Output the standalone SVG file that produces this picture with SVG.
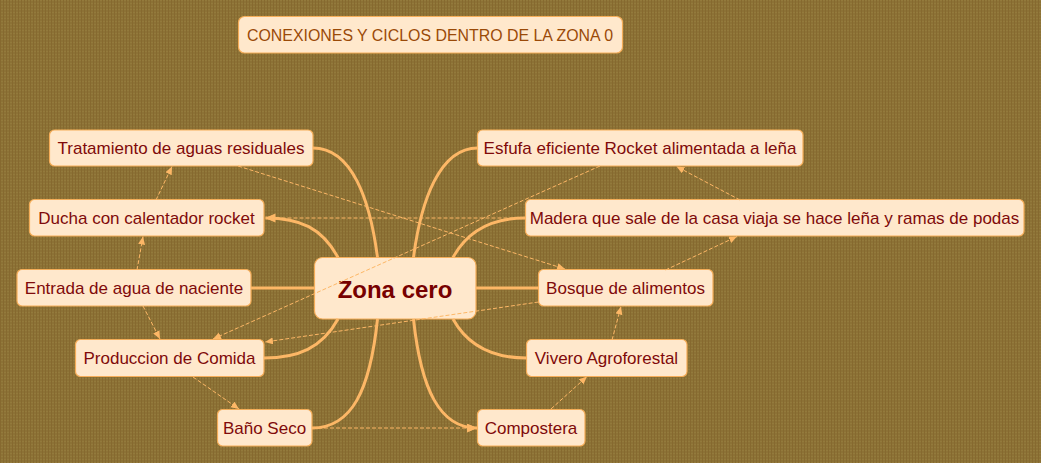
<svg xmlns="http://www.w3.org/2000/svg" width="1041" height="463" viewBox="0 0 1041 463">
<style>
.node rect{fill:#ffe8cc;stroke:#f5ad58;stroke-width:1.2}
.node text{font-family:"Liberation Sans",Arial,sans-serif;font-size:17px;fill:#800a0a;text-anchor:middle}
.main text{font-size:24px;font-weight:bold;fill:#770000}
.title text{font-size:16px;fill:#9a4a08}
.solid{fill:none;stroke:#fdb766;stroke-width:3}
.dash{fill:none;stroke:#fdb766;stroke-width:1;stroke-dasharray:4 2}
</style>
<defs>
<pattern id="tex" width="3" height="3" patternUnits="userSpaceOnUse">
<rect width="3" height="3" fill="#8c7236"/>
<rect width="3" height="1" fill="#937a3c"/>
<rect width="1" height="3" fill="#86692f"/>
</pattern>
<marker id="aS" markerUnits="userSpaceOnUse" markerWidth="11" markerHeight="10" refX="10" refY="4.5" orient="auto">
<path d="M0,0 L10,4.5 L0,9 z" fill="#fdb766"/>
</marker>
<marker id="aD" markerUnits="userSpaceOnUse" markerWidth="9" markerHeight="8" refX="8" refY="3.5" orient="auto">
<path d="M0,0 L8,3.5 L0,7 z" fill="#fdb766"/>
</marker>
</defs>
<rect width="1041" height="463" fill="url(#tex)"/>

<g id="title" class="node title">
<rect x="238.5" y="16.5" width="384" height="36.5" rx="6"/>
<text x="430" y="40.7" textLength="366" lengthAdjust="spacingAndGlyphs">CONEXIONES Y CICLOS DENTRO DE LA ZONA 0</text>
</g>

<g id="zona-cero" class="node main">
<rect x="314.5" y="257.5" width="161.5" height="61.5" rx="8"/>
<text x="395" y="297.5">Zona cero</text>
</g>
<g id="tratamiento" class="node">
<rect x="49.5" y="130" width="263.5" height="36" rx="5"/>
<text x="181" y="154.3">Tratamiento de aguas residuales</text>
</g>
<g id="ducha" class="node">
<rect x="29.5" y="199.5" width="234.5" height="36.5" rx="5"/>
<text x="146.5" y="224">Ducha con calentador rocket</text>
</g>
<g id="entrada" class="node">
<rect x="17" y="269.5" width="234" height="36.5" rx="5"/>
<text x="134" y="294">Entrada de agua de naciente</text>
</g>
<g id="produccion" class="node">
<rect x="75.5" y="339.5" width="188.5" height="37" rx="5"/>
<text x="169.5" y="364">Produccion de Comida</text>
</g>
<g id="bano" class="node">
<rect x="217.5" y="409.5" width="94.5" height="36.5" rx="5"/>
<text x="264.5" y="434">Baño Seco</text>
</g>
<g id="compostera" class="node">
<rect x="477.5" y="409.5" width="107.5" height="36.5" rx="5"/>
<text x="531" y="434">Compostera</text>
</g>
<g id="vivero" class="node">
<rect x="526.5" y="339.5" width="160.5" height="37" rx="5"/>
<text x="606.5" y="364">Vivero Agroforestal</text>
</g>
<g id="bosque" class="node">
<rect x="538.5" y="269.5" width="174.5" height="36.5" rx="5"/>
<text x="625.5" y="294">Bosque de alimentos</text>
</g>
<g id="madera" class="node">
<rect x="525.5" y="199.5" width="498.5" height="36.5" rx="5"/>
<text x="774.5" y="224">Madera que sale de la casa viaja se hace leña y ramas de podas</text>
</g>
<g id="esfufa" class="node">
<rect x="477.5" y="130" width="325.5" height="36" rx="5"/>
<text x="640" y="154.3">Esfufa eficiente Rocket alimentada a leña</text>
</g>

<g id="connectors">
<path class="solid" d="M313,148 C352,148 370,200 377.5,257.5"/>
<path class="solid" d="M413.5,257.5 C421,200 440,148 477.5,148"/>
<path class="solid" d="M338,257.5 C322,228 300,218 265.5,218" marker-end="url(#aS)"/>
<path class="solid" d="M453,257.5 C469,228 495,218 525.5,218"/>
<path class="solid" d="M251,288 L314.5,288"/>
<path class="solid" d="M476,288 L538.5,288"/>
<path class="solid" d="M338,319 C322,348 298,358 264,358"/>
<path class="solid" d="M453,319 C469,348 495,358 526.5,358"/>
<path class="solid" d="M377.5,319 C370,390 352,428 312,428"/>
<path class="solid" d="M413.5,319 C421,390 440,428 477,428" marker-end="url(#aS)"/>

<path class="dash" d="M156,200 L172,166.5" marker-end="url(#aD)"/>
<path class="dash" d="M137,270 L143,236.5" marker-end="url(#aD)"/>
<path class="dash" d="M143,306 L160,339" marker-end="url(#aD)"/>
<path class="dash" d="M193,377 L239,409" marker-end="url(#aD)"/>
<path class="dash" d="M312,428 L477,428" marker-end="url(#aD)"/>
<path class="dash" d="M551,409 L587,376.5" marker-end="url(#aD)"/>
<path class="dash" d="M612,340 L621,306.5" marker-end="url(#aD)"/>
<path class="dash" d="M665.5,270 L737,236.5" marker-end="url(#aD)"/>
<path class="dash" d="M740,200 L676.5,166.5" marker-end="url(#aD)"/>
<path class="dash" d="M525.5,218 L265.5,218" marker-end="url(#aD)"/>
<path class="dash" d="M238,166 L565,269" marker-end="url(#aD)"/>
<path class="dash" d="M600,166 L213,339" marker-end="url(#aD)"/>
<path class="dash" d="M538.5,302 L265,342" marker-end="url(#aD)"/>
</g>
</svg>
